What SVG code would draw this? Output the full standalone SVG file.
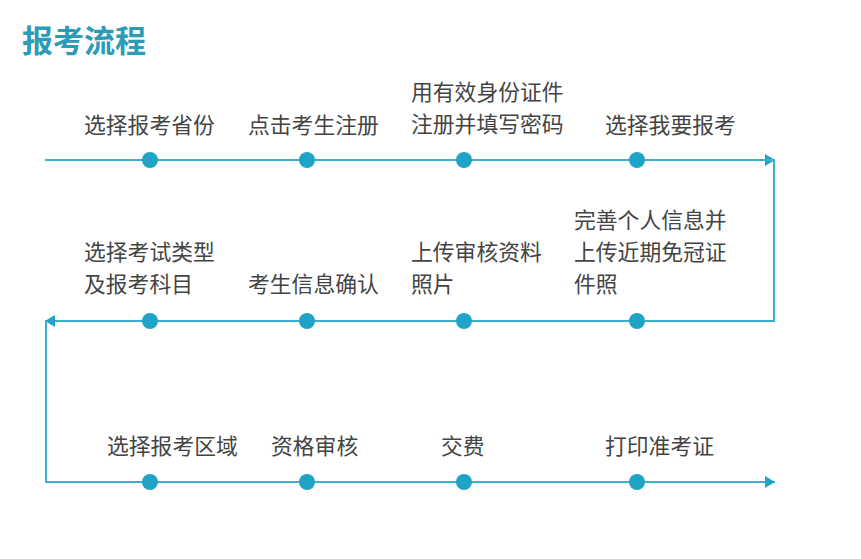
<svg xmlns="http://www.w3.org/2000/svg" width="861" height="559" viewBox="0 0 861 559">
<style>
.t{font-family:"Noto Sans CJK SC","Noto Sans",sans-serif;font-size:21.8px;fill:#444}
.h{font-family:"Noto Sans CJK SC",sans-serif;font-size:31px;font-weight:bold;fill:#2b9bb6}
.ln{stroke:#3aaecb;stroke-width:2;fill:none}
.d{fill:#1fa3c6}
</style>
<defs>
<marker id="ar" viewBox="0 0 10 12" refX="10" refY="6" markerWidth="10" markerHeight="12" markerUnits="userSpaceOnUse" orient="auto">
<path d="M0,0 L10,6 L0,12 Z" fill="#1fa3c6"/>
</marker>
</defs>
<rect width="861" height="559" fill="#fff"/>
<text class="h" x="22" y="52">报考流程</text>
<g id="connectors">
<polyline class="ln" points="45,160 775,160" marker-end="url(#ar)"/>
<polyline class="ln" points="765,160 774,160 774,321 45,321" marker-end="url(#ar)"/>
<polyline class="ln" points="46,321 46,482 775,482" marker-end="url(#ar)"/>
</g>
<g id="n1"><circle class="d" cx="150" cy="160" r="8"/><text class="t" x="84" y="133">选择报考省份</text></g>
<g id="n2"><circle class="d" cx="307" cy="160" r="8"/><text class="t" x="248" y="133">点击考生注册</text></g>
<g id="n3"><circle class="d" cx="464" cy="160" r="8"/><text class="t" x="411" y="100">用有效身份证件</text><text class="t" x="411" y="132">注册并填写密码</text></g>
<g id="n4"><circle class="d" cx="637" cy="160" r="8"/><text class="t" x="605" y="133">选择我要报考</text></g>
<g id="n5"><circle class="d" cx="637" cy="321" r="8"/><text class="t" x="574" y="228">完善个人信息并</text><text class="t" x="574" y="260">上传近期免冠证</text><text class="t" x="574" y="292">件照</text></g>
<g id="n6"><circle class="d" cx="464" cy="321" r="8"/><text class="t" x="411" y="260">上传审核资料</text><text class="t" x="411" y="292">照片</text></g>
<g id="n7"><circle class="d" cx="307" cy="321" r="8"/><text class="t" x="248" y="292">考生信息确认</text></g>
<g id="n8"><circle class="d" cx="150" cy="321" r="8"/><text class="t" x="84" y="260">选择考试类型</text><text class="t" x="84" y="292">及报考科目</text></g>
<g id="n9"><circle class="d" cx="150" cy="482" r="8"/><text class="t" x="107" y="454">选择报考区域</text></g>
<g id="n10"><circle class="d" cx="307" cy="482" r="8"/><text class="t" x="271" y="454">资格审核</text></g>
<g id="n11"><circle class="d" cx="464" cy="482" r="8"/><text class="t" x="441" y="454">交费</text></g>
<g id="n12"><circle class="d" cx="637" cy="482" r="8"/><text class="t" x="605" y="454">打印准考证</text></g>
</svg>
